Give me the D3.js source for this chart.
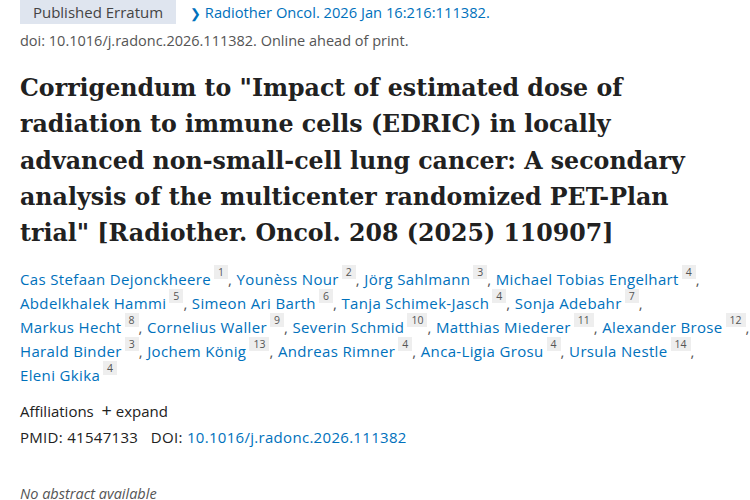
<!DOCTYPE html>
<html><head><meta charset="utf-8">
<script src="https://cdn.jsdelivr.net/npm/d3@7"></script>
<style>
body{margin:0;width:750px;height:500px;overflow:hidden;background:#fff;font-family:"Open Sans",sans-serif;color:#212121}
.abs{position:absolute;white-space:nowrap}
a{color:#0071bc;text-decoration:none}
sup{font-size:10.5px;background:#eee;color:#555;padding:0 4px;margin-left:3px;position:relative;top:-2px;vertical-align:top;line-height:15px;letter-spacing:0}
</style></head><body>
<script>
const badge = "Published Erratum";
const citation = "Radiother Oncol. 2026 Jan 16:216:111382.";
const doiLine = "doi: 10.1016/j.radonc.2026.111382. Online ahead of print.";
const titleLines = [
  'Corrigendum to "Impact of estimated dose of',
  'radiation to immune cells (EDRIC) in locally',
  'advanced non-small-cell lung cancer: A secondary',
  'analysis of the multicenter randomized PET-Plan',
  'trial" [Radiother. Oncol. 208 (2025) 110907]'
];
const authors = ["Cas Stefaan Dejonckheere","Younèss Nour","Jörg Sahlmann","Michael Tobias Engelhart",
  "Abdelkhalek Hammi","Simeon Ari Barth","Tanja Schimek-Jasch","Sonja Adebahr",
  "Markus Hecht","Cornelius Waller","Severin Schmid","Matthias Miederer","Alexander Brose",
  "Harald Binder","Jochem König","Andreas Rimner","Anca-Ligia Grosu","Ursula Nestle",
  "Eleni Gkika"];
const affils = [1,2,3,4,5,6,4,7,8,9,10,11,12,3,13,4,4,14,4];
const lineBreaks = [4,8,13,18,19];
const pmid = "41547133";
const doi = "10.1016/j.radonc.2026.111382";

const body = d3.select("body");
body.append("div").attr("class","abs").text(badge)
  .style("left","20px").style("top","0px").style("width","156px").style("height","24px")
  .style("background","#dfe5ef").style("font-size","15px").style("line-height","24px")
  .style("text-align","center").style("color","#444");
body.append("div").attr("class","abs").style("left","190px").style("top","0px")
  .style("font-size","14.7px").style("line-height","24px")
  .html(`<a><span style="font-size:13px">&#x276F;</span> ${citation}</a>`);
body.append("div").attr("class","abs").text(doiLine)
  .style("left","20px").style("top","30px").style("font-size","14.5px").style("line-height","22px").style("color","#555");

const y = d3.scaleLinear().domain([0,1]).range([70,106.3]);
body.selectAll(".title").data(titleLines).join("div").attr("class","abs title")
  .style("left","20px").style("top",(d,i)=>y(i)+"px")
  .style("font-family","'DejaVu Serif',serif").style("font-weight","bold")
  .style("font-size","23.7px").style("line-height","36px").style("color","#212121")
  .text(d=>d);

const ay = d3.scaleLinear().domain([0,1]).range([267,291]);
let start = 0;
lineBreaks.forEach((end,li)=>{
  const idx = d3.range(start,end);
  const html = idx.map(i=>`<a>${authors[i]}</a><sup>${affils[i]}</sup>`).join(", ")+(end<authors.length?",":"");
  body.append("div").attr("class","abs").style("left","20px").style("top",ay(li)+"px")
    .style("font-size","15px").style("letter-spacing","0.35px").style("line-height","24px").style("color","#555").html(html);
  start = end;
});

body.append("div").attr("class","abs").style("left","20px").style("top","398px")
  .style("font-size","15px").style("line-height","24px")
  .html('Affiliations &nbsp;<span style="font-size:18px">+</span> expand');
body.append("div").attr("class","abs").style("left","20px").style("top","425px")
  .style("font-size","15px").style("letter-spacing","0.3px").style("line-height","24px")
  .html(`PMID: ${pmid} &nbsp;&nbsp;DOI: <a>${doi}</a>`);
body.append("div").attr("class","abs").style("left","20px").style("top","482px")
  .style("font-size","14.5px").style("line-height","24px").style("font-style","italic").style("color","#555")
  .text("No abstract available");
</script>
</body></html>
